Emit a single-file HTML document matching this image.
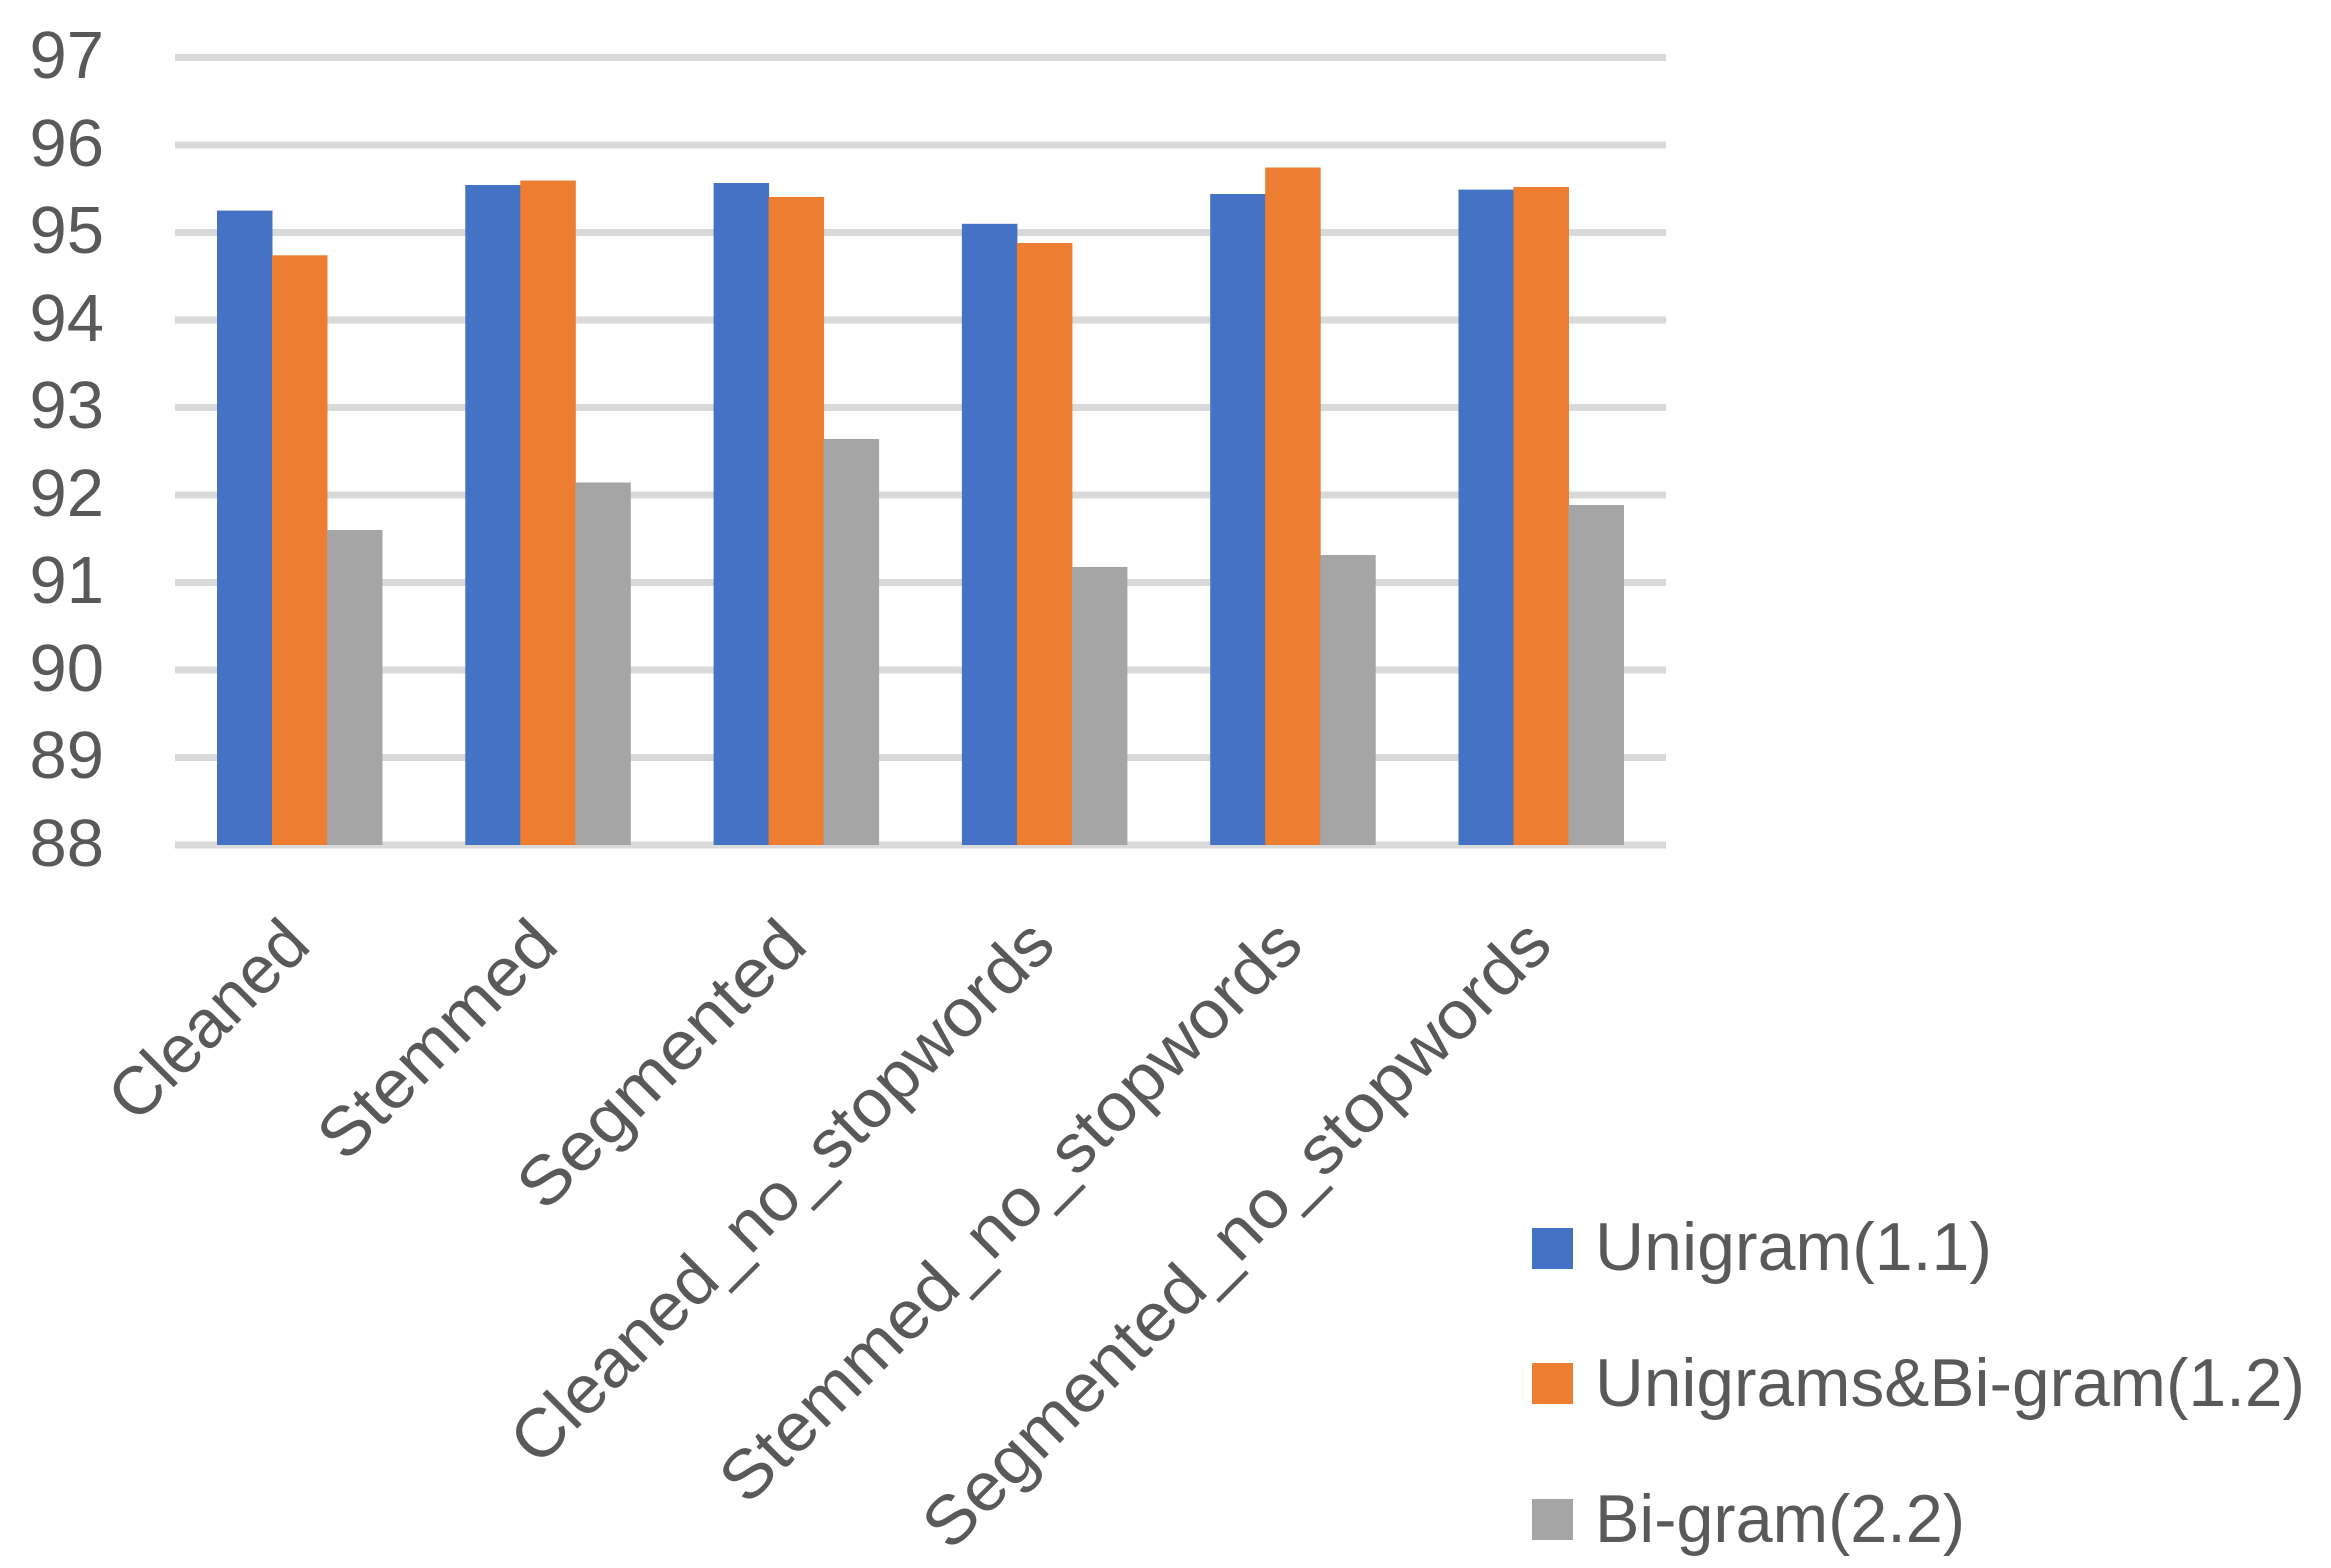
<!DOCTYPE html>
<html><head><meta charset="utf-8"><style>
html,body{margin:0;padding:0;background:#fff;}
svg{display:block;}
text{font-family:"Liberation Sans",sans-serif;fill:#595959;}
</style></head><body>
<svg width="2331" height="1568" viewBox="0 0 2331 1568" xmlns="http://www.w3.org/2000/svg">
<g id="grid" fill="#d9d9d9">
<rect x="175" y="54" width="1491" height="7"/>
<rect x="175" y="141.5" width="1491" height="7"/>
<rect x="175" y="229" width="1491" height="7"/>
<rect x="175" y="316.5" width="1491" height="7"/>
<rect x="175" y="404" width="1491" height="7"/>
<rect x="175" y="491.5" width="1491" height="7"/>
<rect x="175" y="579" width="1491" height="7"/>
<rect x="175" y="666.5" width="1491" height="7"/>
<rect x="175" y="754" width="1491" height="7"/>
<rect x="175" y="841.5" width="1491" height="7"/>
</g>
<g font-size="67" text-anchor="end">
<text x="104" y="78">97</text>
<text x="104" y="166">96</text>
<text x="104" y="253">95</text>
<text x="104" y="341">94</text>
<text x="104" y="428">93</text>
<text x="104" y="516">92</text>
<text x="104" y="603">91</text>
<text x="104" y="691">90</text>
<text x="104" y="778">89</text>
<text x="104" y="866">88</text>
</g>
<g id="bars">
<!-- y = 845 - (v-88)*87.5 -->
<rect x="217" y="210.6" width="55.5" height="634.4" fill="#4472c4"/>
<rect x="272" y="255.3" width="55.5" height="589.7" fill="#ed7d31"/>
<rect x="327" y="530" width="55.5" height="315" fill="#a5a5a5"/>

<rect x="465.3" y="185" width="55.5" height="660" fill="#4472c4"/>
<rect x="520.3" y="180.5" width="55.5" height="664.5" fill="#ed7d31"/>
<rect x="575.3" y="482.5" width="55.5" height="362.5" fill="#a5a5a5"/>

<rect x="713.6" y="183" width="55.5" height="662" fill="#4472c4"/>
<rect x="768.6" y="197" width="55.5" height="648" fill="#ed7d31"/>
<rect x="823.6" y="439" width="55.5" height="406" fill="#a5a5a5"/>

<rect x="961.9" y="223.8" width="55.5" height="621.2" fill="#4472c4"/>
<rect x="1016.9" y="243" width="55.5" height="602" fill="#ed7d31"/>
<rect x="1071.9" y="567" width="55.5" height="278" fill="#a5a5a5"/>

<rect x="1210.2" y="194" width="55.5" height="651" fill="#4472c4"/>
<rect x="1265.2" y="167.5" width="55.5" height="677.5" fill="#ed7d31"/>
<rect x="1320.2" y="555" width="55.5" height="290" fill="#a5a5a5"/>

<rect x="1458.5" y="189.6" width="55.5" height="655.4" fill="#4472c4"/>
<rect x="1513.5" y="187" width="55.5" height="658" fill="#ed7d31"/>
<rect x="1568.5" y="505" width="55.5" height="340" fill="#a5a5a5"/>
</g>
<g font-size="68" text-anchor="end">
<text transform="translate(313,948) rotate(-45)" textLength="250" lengthAdjust="spacingAndGlyphs">Cleaned</text>
<text transform="translate(561,948) rotate(-45)" textLength="305" lengthAdjust="spacingAndGlyphs">Stemmed</text>
<text transform="translate(810,948) rotate(-45)" textLength="375" lengthAdjust="spacingAndGlyphs">Segmented</text>
<text transform="translate(1058,948) rotate(-45)" textLength="735" lengthAdjust="spacingAndGlyphs">Cleaned_no_stopwords</text>
<text transform="translate(1306,948) rotate(-45)" textLength="790" lengthAdjust="spacingAndGlyphs">Stemmed_no_stopwords</text>
<text transform="translate(1555,948) rotate(-45)" textLength="855" lengthAdjust="spacingAndGlyphs">Segmented_no_stopwords</text>
</g>
<g>
<rect x="1532" y="1228" width="41" height="41" fill="#4472c4"/>
<rect x="1532" y="1363" width="41" height="41" fill="#ed7d31"/>
<rect x="1532" y="1499" width="41" height="41" fill="#a5a5a5"/>
</g>
<g font-size="68">
<text x="1595" y="1270" textLength="397" lengthAdjust="spacingAndGlyphs">Unigram(1.1)</text>
<text x="1595" y="1406" textLength="710" lengthAdjust="spacingAndGlyphs">Unigrams&amp;Bi-gram(1.2)</text>
<text x="1595" y="1542" textLength="370" lengthAdjust="spacingAndGlyphs">Bi-gram(2.2)</text>
</g>
</svg>
</body></html>
